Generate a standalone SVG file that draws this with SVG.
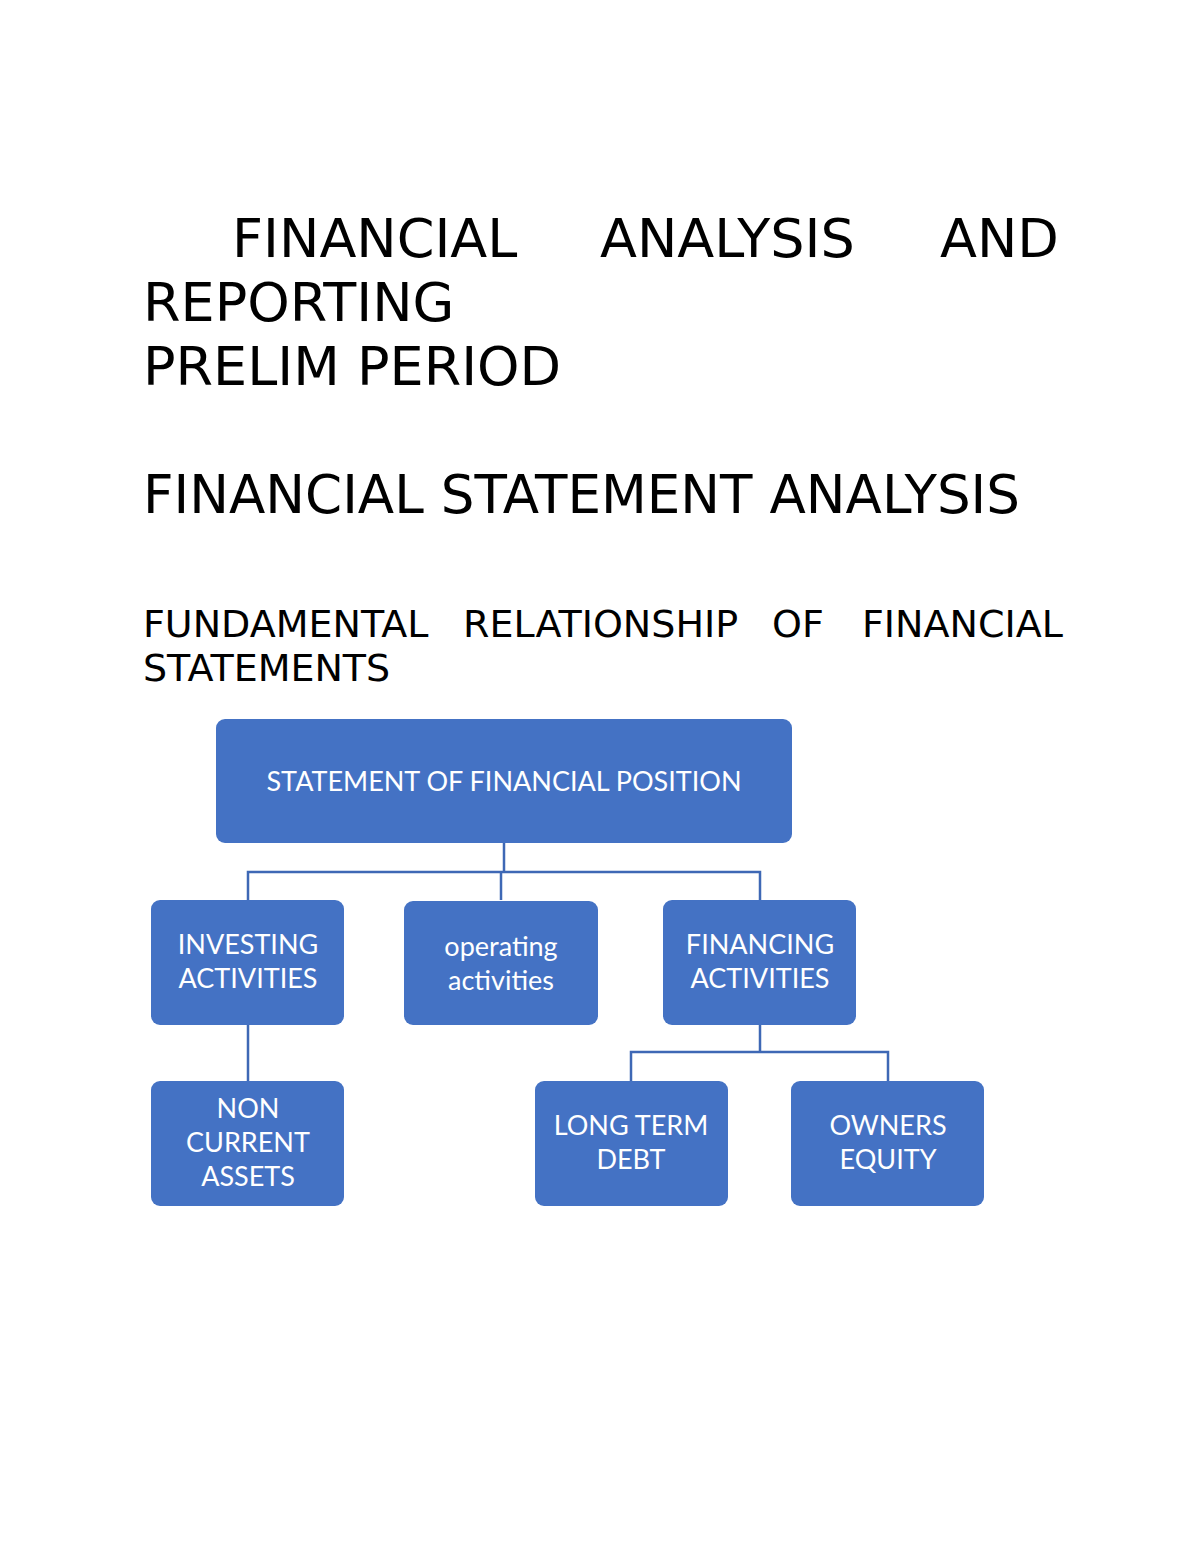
<svg xmlns="http://www.w3.org/2000/svg" width="1200" height="1553" viewBox="0 0 1200 1553">
<style>
.h{font-family:"DejaVu Sans",sans-serif;font-size:54px;fill:#000}
.s{font-family:"DejaVu Sans",sans-serif;font-size:38px;fill:#000}
.b{fill:#4472C4}
.t{font-family:Lato,"Open Sans",sans-serif;font-size:27px;fill:#fff;text-anchor:middle}
.c{stroke:#3E68B5;stroke-width:2.5;fill:none}
</style>
<rect width="1200" height="1553" fill="#fff"/>
<text class="h" x="232" y="257">FINANCIAL</text>
<text class="h" x="600" y="257">ANALYSIS</text>
<text class="h" x="940" y="257">AND</text>
<text class="h" x="143" y="321">REPORTING</text>
<text class="h" x="143" y="385">PRELIM PERIOD</text>
<text class="h" x="143" y="513" textLength="877" lengthAdjust="spacingAndGlyphs">FINANCIAL STATEMENT ANALYSIS</text>
<text class="s" x="143" y="637">FUNDAMENTAL</text>
<text class="s" x="463" y="637">RELATIONSHIP</text>
<text class="s" x="772" y="637">OF</text>
<text class="s" x="862" y="637">FINANCIAL</text>
<text class="s" x="143" y="681">STATEMENTS</text>
<g id="connectors">
<path class="c" d="M504 843V872M248 900V872H760V900M501 872V900M248 1025V1081M760 1025V1052M631 1081V1052H888V1081"/>
</g>
<g id="sofp"><rect class="b" x="216" y="719" width="576" height="124" rx="9"/><text class="t" x="504" y="791">STATEMENT OF FINANCIAL POSITION</text></g>
<g id="investing"><rect class="b" x="151" y="900" width="193" height="125" rx="9"/><text class="t" x="248" y="954">INVESTING</text><text class="t" x="248" y="988">ACTIVITIES</text></g>
<g id="operating"><rect class="b" x="404" y="901" width="194" height="124" rx="9"/><text class="t" x="501" y="956">operating</text><text class="t" x="501" y="990">activities</text></g>
<g id="financing"><rect class="b" x="663" y="900" width="193" height="125" rx="9"/><text class="t" x="760" y="954">FINANCING</text><text class="t" x="760" y="988">ACTIVITIES</text></g>
<g id="noncurrent"><rect class="b" x="151" y="1081" width="193" height="125" rx="9"/><text class="t" x="248" y="1118">NON</text><text class="t" x="248" y="1152">CURRENT</text><text class="t" x="248" y="1186">ASSETS</text></g>
<g id="ltdebt"><rect class="b" x="535" y="1081" width="193" height="125" rx="9"/><text class="t" x="631" y="1135">LONG TERM</text><text class="t" x="631" y="1169">DEBT</text></g>
<g id="equity"><rect class="b" x="791" y="1081" width="193" height="125" rx="9"/><text class="t" x="888" y="1135">OWNERS</text><text class="t" x="888" y="1169">EQUITY</text></g>
</svg>
